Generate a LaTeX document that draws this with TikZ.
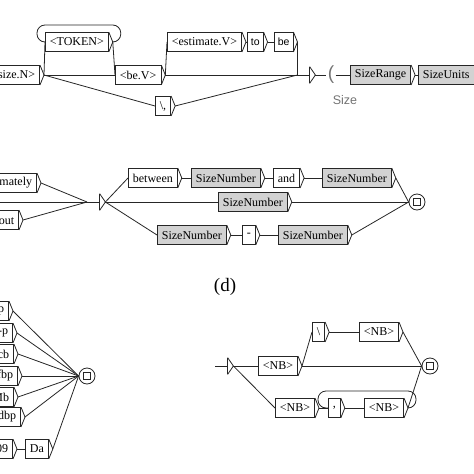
\documentclass[tikz,border=0pt]{standalone}
\usepackage{fontspec}
\setmainfont{Liberation Serif}
\setsansfont{Liberation Sans}
\newcommand\fs{\fontsize{12}{14}\selectfont}
\begin{document}
\begin{tikzpicture}[x=1pt,y=-1pt, line width=0.8pt, draw=black!85,
  box/.style={draw, fill=white, font=\fs, inner xsep=4.5pt, inner ysep=0pt,
    minimum height=19pt, anchor=west,
    append after command={\pgfextra{\let\bx=\tikzlastnode}
      (\bx.north east) edge ([xshift=4pt]\bx.east)
      ([xshift=4pt]\bx.east) edge (\bx.south east)
      ([xshift=4pt]\bx.east) coordinate (\bx-t)}},
  sub/.style={box, fill=gray!35},
  small/.style={box, font=\sffamily\fontsize{10.5}{12}\selectfont, inner xsep=3.5pt},
  init/.style={inner sep=0pt, minimum width=5pt, minimum height=16pt,
    append after command={\pgfextra{\let\bx=\tikzlastnode}
      (\bx.north west) edge (\bx.east)
      (\bx.east) edge (\bx.south west)
      (\bx.south west) edge (\bx.north west)}},
  final/.style={draw, fill=white, circle, inner sep=0pt, minimum size=16pt,
    path picture={\draw (path picture bounding box.center) +(-3.5,-3.5) rectangle +(3.5,3.5);}},
  lbl/.style={text=black!55, font=\sffamily\fontsize{12.5}{14}\selectfont, inner sep=1pt}]
\useasboundingbox (0,0) rectangle (474,474);
% top graph
\node[box, anchor=east] (sizeN) at (40,75) {<size.N>};
\node[box] (tok) at (45,42) {<TOKEN>};
\node[box] (beV) at (115,75) {<be.V>};
\node[box] (estV) at (167,42) {<estimate.V>};
\node[small] (wto) at (247,42) {to};
\node[small] (wbe) at (274,42) {be};
\node[box] (bsc) at (155,106) {\textbackslash,};
\coordinate (j1) at (wbe-t |- beV-t);
\node[init] (s1) at (312.5,75) {};
\node[lbl, font=\sffamily\fontsize{19}{19}\selectfont] (par) at (331,75) {(};
\node[sub] (range) at (350,75) {SizeRange};
\node[sub] (units) at (418,75) {SizeUnits};
\node[lbl] (gname) at (345,100) {Size};
\draw (sizeN-t) -- (beV.west);
\draw (sizeN-t) -- (tok.west);
\draw (sizeN-t) -- (bsc.west);
\draw[rounded corners=8pt] (tok-t) -- ++(8,0) -- ++(0,-17)
  -- ([shift={(-8,-17)}]tok.west) -- ([xshift=-8pt]tok.west) -- (tok.west);
\draw (tok-t) -- (beV.west);
\draw (beV-t) -- (estV.west);
\draw (beV-t) -- (j1);
\draw (estV-t) -- (wto.west);
\draw (wto-t) -- (wbe.west);
\draw (wbe-t) -- (j1);
\draw (bsc-t) -- (j1);
\draw (j1) -- (s1.west);
\draw (s1.east) -- (par.west);
\draw (par.east) -- (range.west);
\draw (range-t) -- (units.west);
% middle graph
\node[box, anchor=east] (appr) at (37,183) {approximately};
\node[box, anchor=east] (about) at (19,220) {about};
\coordinate (in2) at (0,202);
\coordinate (j2) at (87,202);
\node[init] (s2) at (102.5,202) {};
\node[box] (betw) at (128,178) {between};
\node[sub] (sn1) at (191,178) {SizeNumber};
\node[box] (wand) at (273,178) {and};
\node[sub] (sn2) at (322,178) {SizeNumber};
\node[sub] (sn3) at (218,202) {SizeNumber};
\node[sub] (sn4) at (157,235) {SizeNumber};
\node[box] (dash) at (242,235) {-};
\node[sub] (sn5) at (278,235) {SizeNumber};
\node[final] (f2) at (417,202) {};
\draw (appr-t) -- (j2);
\draw (about-t) -- (j2);
\draw (in2) -- (j2);
\draw (j2) -- (s2.west);
\draw (s2.east) -- (betw.west);
\draw (s2.east) -- (sn3.west);
\draw (s2.east) -- (sn4.west);
\draw (betw-t) -- (sn1.west);
\draw (sn1-t) -- (wand.west);
\draw (wand-t) -- (sn2.west);
\draw (sn2-t) -- (f2.west);
\draw (sn3-t) -- (f2.west);
\draw (sn4-t) -- (dash.west);
\draw (dash-t) -- (sn5.west);
\draw (sn5-t) -- (f2.west);
\node[font=\fontsize{19}{21}\selectfont] (cap) at (225,287) {(d)};
% bottom left graph
\node[box, anchor=east] (u1) at (9,311) {p};
\node[box, anchor=east] (u2) at (13,333) {-p};
\node[box, anchor=east] (u3) at (14,354) {cb};
\node[box, anchor=east] (u4) at (18,376) {fbp};
\node[box, anchor=east] (u5) at (14,397) {Mb};
\node[box, anchor=east] (u6) at (21,417) {dbp};
\node[box, anchor=east] (u7) at (13,449) {09};
\node[box] (da) at (25,449) {Da};
\node[final] (f3) at (87,376) {};
\foreach \u in {u1,u2,u3,u4,u5,u6,da}
  \draw (\u-t) -- (f3.west);
\draw (u7-t) -- (da.west);
% bottom right graph
\coordinate (in4) at (215,366);
\node[init] (s4) at (230.5,366) {};
\node[box] (nb1) at (258,366) {<NB>};
\node[box] (bsl) at (312,332) {\textbackslash};
\node[box] (nb2) at (359,332) {<NB>};
\node[box] (nb3) at (275,408) {<NB>};
\node[box] (cma) at (328,408) {,};
\node[box] (nb4) at (364,408) {<NB>};
\node[final] (f4) at (430,366) {};
\draw (in4) -- (s4.west);
\draw (s4.east) -- (nb1.west);
\draw (s4.east) -- (nb3.west);
\draw (nb1-t) -- (bsl.west);
\draw (nb1-t) -- (f4.west);
\draw (bsl-t) -- (nb2.west);
\draw (nb2-t) -- (f4.west);
\draw (nb3-t) -- (cma.west);
\draw (cma-t) -- (nb4.west);
\draw (nb4-t) -- (f4.west);
\draw[rounded corners=8pt] (nb4-t) -- ++(8,0) -- ++(0,-17)
  -- ([shift={(-10,-17)}]cma.west) -- ([xshift=-10pt]cma.west) -- (cma.west);
\end{tikzpicture}
\end{document}
